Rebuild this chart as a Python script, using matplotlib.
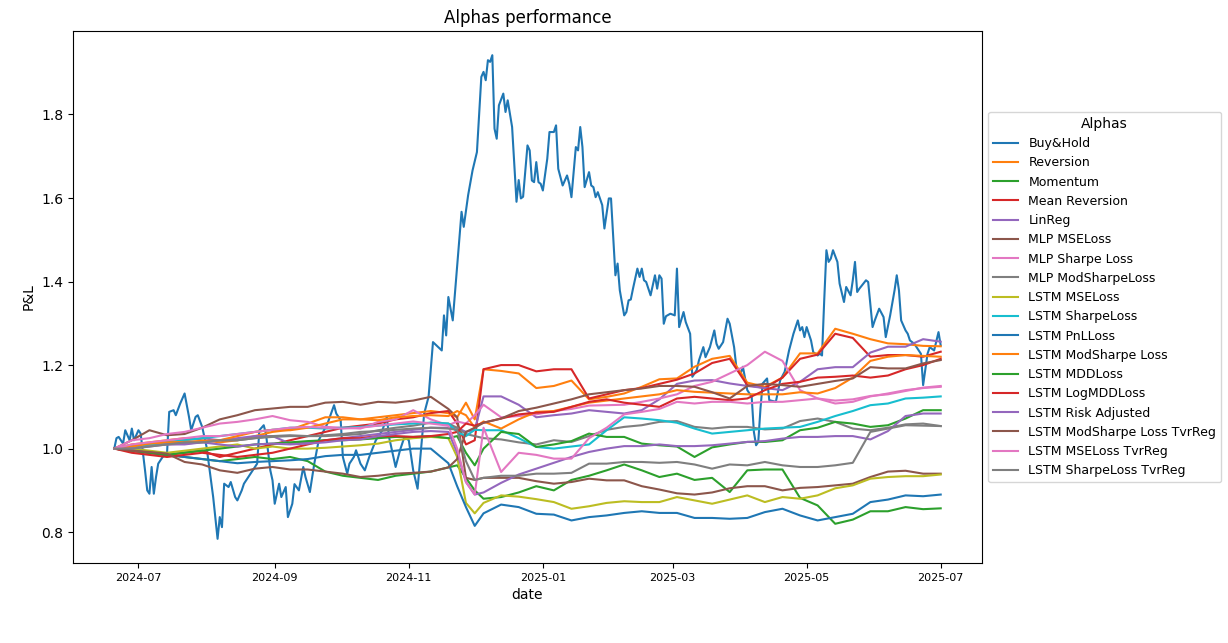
import matplotlib
matplotlib.use('Agg')
import matplotlib.pyplot as plt
import matplotlib.dates as mdates
import pandas as pd

START = '2024-06-20'

# common sampling days (offset from START) for the strategy curves
GRID_DAYS = [0, 8, 16, 24, 32, 40, 48, 56, 64, 72, 80, 88, 96, 104, 112, 120, 128, 136, 144, 152,
             156, 160, 164, 168,
             176, 184, 192, 200, 208, 216, 224, 232, 240, 248, 256,
             264, 272, 280, 288, 296, 304, 312, 320, 328, 336, 344, 352, 360, 368, 376]

# Buy&Hold read at a finer resolution
BH_DAYS = [0, 1, 2, 3, 4, 5, 7, 8, 9, 11, 12, 14, 15, 16, 17, 18, 19, 20, 22, 24, 25, 27, 28, 30, 32,
           34, 35, 37, 38, 40, 42, 43, 45, 47, 48, 49, 50, 52, 53, 55, 56, 58, 59, 61, 63, 65, 66, 68,
           69, 71, 72, 73, 75, 76, 78, 79, 81, 82, 84, 86, 87, 89, 91, 93, 97, 100, 101, 103, 104, 106,
           107, 109, 110, 112, 114, 116, 119, 122, 124, 125, 128, 130, 132, 134, 136, 138, 141, 143,
           145, 149, 150, 151, 152, 154, 158, 159, 161, 163, 165, 167, 168, 169, 170, 171, 172, 173,
           174, 175, 177, 178, 179, 181, 183, 184, 185, 186, 188, 189, 190, 191, 192, 193, 194, 195,
           197, 198, 200, 201, 202, 204, 206, 207, 208, 210, 211, 212, 213, 214, 216, 217, 218, 219,
           220, 222, 223, 225, 226, 228, 229, 230, 232, 233, 234, 235, 236, 238, 239, 240, 241, 242,
           244, 245, 246, 247, 248, 249, 250, 251, 253, 255, 256, 257, 259, 260, 262, 263, 265, 266,
           268, 269, 271, 273, 274, 275, 277, 279, 280, 282, 283, 285, 286, 288, 290, 291, 292, 293,
           294, 295, 297, 298, 301, 303, 305, 307, 309, 311, 312, 313, 314, 315, 317, 318, 320, 321,
           322, 323, 324, 325, 326, 327, 329, 330, 332, 333, 335, 336, 337, 338, 339, 342, 343, 345,
           346, 348, 350, 351, 353, 355, 356, 357, 358, 360, 361, 362, 364, 367, 368, 370, 371, 373,
           375, 376]
BH_VALUES = [1.000, 1.025, 1.028, 1.020, 1.012, 1.044, 1.020, 1.048, 1.020, 1.044, 1.036, 0.948, 0.900,
             0.892, 0.956, 0.892, 0.932, 0.964, 0.980, 0.988, 1.088, 1.092, 1.080, 1.108, 1.132,
             1.076, 1.044, 1.076, 1.080, 1.052, 1.004, 0.964, 0.884, 0.784, 0.836, 0.812, 0.916, 0.908,
             0.920, 0.884, 0.876, 0.900, 0.916, 0.932, 0.948, 0.964, 1.044, 1.056,
             1.036, 0.948, 0.924, 0.868, 0.916, 0.884, 0.908, 0.836, 0.868, 0.915, 0.900, 0.956, 0.932,
             0.896, 0.964, 1.020, 1.060, 1.104, 1.084, 1.068, 0.980, 0.940,
             0.964, 0.980, 0.996, 0.964, 0.948, 0.980, 1.020, 1.044, 1.076, 1.028, 0.956, 0.996, 1.028,
             1.020, 0.948, 0.904, 1.084, 1.124,
             1.255, 1.235, 1.319, 1.271, 1.363, 1.307, 1.567, 1.531, 1.607, 1.666, 1.710, 1.890, 1.902,
             1.882, 1.930, 1.926, 1.942, 1.766,
             1.742, 1.822, 1.850, 1.806, 1.834, 1.770, 1.591, 1.643, 1.599, 1.603, 1.726, 1.714, 1.642,
             1.638, 1.686, 1.638, 1.634, 1.618,
             1.694, 1.758, 1.758, 1.774, 1.670, 1.630, 1.654, 1.634, 1.602, 1.722, 1.714, 1.770, 1.722,
             1.626, 1.662, 1.630, 1.626, 1.602,
             1.614, 1.583, 1.527, 1.599, 1.599, 1.415, 1.443, 1.379, 1.319, 1.327, 1.355, 1.357, 1.383,
             1.431, 1.411, 1.431, 1.403, 1.399,
             1.367, 1.391, 1.415, 1.383, 1.415, 1.407, 1.299, 1.317, 1.323, 1.319, 1.431, 1.291, 1.327,
             1.303, 1.275, 1.172, 1.188, 1.211,
             1.243, 1.219, 1.243, 1.283, 1.251, 1.239, 1.255, 1.311, 1.299, 1.243, 1.196, 1.180, 1.196,
             1.140, 1.124, 1.040, 1.008, 1.016,
             1.096, 1.156, 1.168, 1.116, 1.112, 1.164, 1.184, 1.235, 1.275, 1.307, 1.283, 1.291, 1.267,
             1.291, 1.259, 1.231, 1.223, 1.227,
             1.223, 1.355, 1.475, 1.447, 1.455, 1.475, 1.447, 1.395, 1.351, 1.387, 1.367, 1.403, 1.447,
             1.375, 1.383, 1.403, 1.399, 1.291,
             1.307, 1.335, 1.315, 1.267, 1.319, 1.379, 1.415, 1.379, 1.307, 1.283, 1.275, 1.259, 1.251,
             1.227, 1.152, 1.227, 1.243, 1.235,
             1.279, 1.247]

REVERSION = [1.0, 1.01, 1.015, 1.02, 1.025, 1.02, 1.015, 1.02, 1.03, 1.04, 1.045, 1.06, 1.075, 1.075, 1.07,
             1.075, 1.08, 1.085, 1.09, 1.085,
             1.075, 1.11, 1.07, 1.19,
             1.186, 1.18, 1.145, 1.15, 1.163, 1.118, 1.124, 1.132, 1.148, 1.166, 1.168,
             1.196, 1.215, 1.222, 1.158, 1.148, 1.17, 1.228, 1.228, 1.287, 1.275, 1.262, 1.252, 1.25, 1.246, 1.245]
MOMENTUM = [1.0, 0.995, 0.99, 0.985, 0.98, 0.975, 0.97, 0.975, 0.98, 0.975, 0.98, 0.97, 0.945, 0.935, 0.93,
            0.925, 0.935, 0.94, 0.945, 0.955,
            0.96, 0.93, 0.90, 0.88,
            0.884, 0.895, 0.91, 0.90, 0.925, 0.935, 0.948, 0.962, 0.948, 0.932, 0.94,
            0.925, 0.93, 0.896, 0.948, 0.95, 0.95, 0.882, 0.864, 0.82, 0.83, 0.85, 0.85, 0.86, 0.855, 0.857]
MEAN_REVERSION = [1.0, 0.995, 0.99, 0.985, 0.99, 0.995, 0.98, 0.99, 1.0, 1.01, 1.02, 1.03, 1.04, 1.05, 1.055,
                  1.06, 1.07, 1.075, 1.085, 1.09,
                  1.06, 1.01, 1.02, 1.19,
                  1.20, 1.20, 1.185, 1.19, 1.19, 1.12, 1.13, 1.14, 1.145, 1.155, 1.165,
                  1.18, 1.205, 1.215, 1.152, 1.145, 1.17, 1.215, 1.225, 1.275, 1.265, 1.22, 1.224, 1.224, 1.22, 1.232]
LINREG = [1.0, 1.005, 1.01, 1.015, 1.02, 1.025, 1.02, 1.025, 1.03, 1.03, 1.012, 1.015, 1.02, 1.025, 1.03,
          1.035, 1.04, 1.045, 1.05, 1.05,
          1.05, 1.04, 1.045, 1.125,
          1.125, 1.105, 1.075, 1.08, 1.084, 1.092, 1.088, 1.084, 1.092, 1.118, 1.155,
          1.163, 1.164, 1.156, 1.15, 1.145, 1.14, 1.16, 1.19, 1.195, 1.195, 1.23, 1.244, 1.244, 1.262, 1.256]
MLP_MSE = [1.0, 1.02, 1.044, 1.032, 1.035, 1.05, 1.07, 1.08, 1.092, 1.096, 1.10, 1.10, 1.11, 1.112, 1.105,
           1.112, 1.11, 1.115, 1.124, 1.095,
           1.075, 0.93, 0.925, 0.93,
           0.93, 0.93, 0.922, 0.916, 0.92, 0.928, 0.924, 0.924, 0.91, 0.902, 0.893,
           0.89, 0.895, 0.905, 0.91, 0.91, 0.90, 0.906, 0.908, 0.912, 0.916, 0.932, 0.945, 0.947, 0.94, 0.94]
MLP_SHARPE = [1.0, 1.02, 1.025, 1.035, 1.04, 1.05, 1.06, 1.064, 1.07, 1.078, 1.068, 1.064, 1.052, 1.05, 1.048,
              1.064, 1.07, 1.092, 1.07, 1.056,
              1.065, 1.06, 1.08, 1.105,
              1.075, 1.078, 1.082, 1.09, 1.095, 1.103, 1.104, 1.105, 1.112, 1.12, 1.13,
              1.15, 1.16, 1.18, 1.2, 1.232, 1.21, 1.14, 1.12, 1.108, 1.112, 1.125, 1.132, 1.14, 1.145, 1.148]
MLP_MODSHARPE = [1.0, 1.005, 1.01, 1.01, 1.012, 1.015, 1.02, 1.02, 1.025, 1.03, 1.032, 1.03, 1.03, 1.032, 1.035,
                 1.044, 1.05, 1.055, 1.062, 1.06,
                 1.05, 1.035, 1.03, 1.025,
                 1.022, 1.015, 1.01, 1.02, 1.016, 1.03, 1.045, 1.052, 1.056, 1.064, 1.066,
                 1.052, 1.048, 1.052, 1.052, 1.046, 1.048, 1.066, 1.072, 1.064, 1.048, 1.044, 1.05, 1.058, 1.06, 1.054]
LSTM_MSE = [1.0, 1.0, 0.995, 0.99, 0.995, 1.0, 1.005, 1.01, 1.0, 1.005, 1.0, 1.0, 1.002, 1.005, 1.008,
            1.012, 1.02, 1.025, 1.028, 1.025,
            0.98, 0.87, 0.845, 0.87,
            0.888, 0.885, 0.879, 0.872, 0.856, 0.862, 0.87, 0.874, 0.872, 0.872, 0.884,
            0.876, 0.868, 0.878, 0.888, 0.872, 0.884, 0.88, 0.888, 0.905, 0.912, 0.928, 0.932, 0.934, 0.934, 0.938]
LSTM_SHARPE = [1.0, 1.005, 1.01, 1.015, 1.02, 1.025, 1.03, 1.035, 1.04, 1.045, 1.05, 1.05, 1.048, 1.05, 1.052,
               1.055, 1.058, 1.06, 1.062, 1.06,
               1.04, 1.03, 1.045, 1.044,
               1.044, 1.025, 1.004, 1.0, 1.005, 1.01, 1.044, 1.075, 1.072, 1.068, 1.062,
               1.048, 1.036, 1.04, 1.044, 1.048, 1.05, 1.052, 1.064, 1.078, 1.09, 1.104, 1.108, 1.12, 1.122, 1.125]
LSTM_PNL = [1.0, 0.995, 0.99, 0.985, 0.98, 0.975, 0.97, 0.965, 0.968, 0.97, 0.972, 0.975, 0.982, 0.985, 0.985,
            0.99, 0.995, 1.0, 1.0, 0.965,
            0.91, 0.86, 0.815, 0.845,
            0.866, 0.86, 0.844, 0.842, 0.828, 0.836, 0.84, 0.846, 0.85, 0.846, 0.846,
            0.834, 0.834, 0.832, 0.834, 0.848, 0.856, 0.84, 0.828, 0.836, 0.844, 0.872, 0.878, 0.888, 0.886, 0.89]
LSTM_MODSHARPE = [1.0, 1.005, 1.012, 1.015, 1.016, 1.018, 1.02, 1.03, 1.04, 1.045, 1.044, 1.05, 1.06, 1.07, 1.07,
                  1.068, 1.075, 1.078, 1.08, 1.078,
                  1.09, 1.08, 1.05, 1.065,
                  1.048, 1.07, 1.088, 1.09, 1.1, 1.11, 1.115, 1.12, 1.125, 1.13, 1.14,
                  1.136, 1.134, 1.132, 1.13, 1.13, 1.13, 1.135, 1.132, 1.145, 1.17, 1.21, 1.22, 1.224, 1.222, 1.22]
LSTM_MDD = [1.0, 0.995, 0.99, 0.985, 0.99, 0.995, 1.0, 1.005, 1.01, 1.012, 1.015, 1.018, 1.02, 1.02, 1.022,
            1.025, 1.028, 1.028, 1.03, 1.025,
            1.03, 0.99, 0.96, 1.0,
            1.04, 1.035, 1.004, 1.01, 1.018, 1.036, 1.028, 1.028, 1.012, 1.008, 1.005,
            0.98, 1.003, 1.01, 1.016, 1.016, 1.02, 1.044, 1.05, 1.064, 1.06, 1.052, 1.056, 1.072, 1.092, 1.092]
LSTM_LOGMDD = [1.0, 0.99, 0.985, 0.98, 0.985, 0.99, 0.985, 0.98, 0.985, 0.99, 1.0, 1.01, 1.02, 1.025, 1.025,
               1.03, 1.03, 1.028, 1.03, 1.035,
               1.04, 1.06, 1.055, 1.062,
               1.072, 1.082, 1.086, 1.088, 1.1, 1.112, 1.118, 1.11, 1.105, 1.1, 1.12,
               1.124, 1.12, 1.116, 1.12, 1.14, 1.155, 1.16, 1.17, 1.172, 1.175, 1.17, 1.175, 1.19, 1.2, 1.215]
LSTM_RISKADJ = [1.0, 1.0, 1.005, 1.01, 1.01, 1.015, 1.01, 1.005, 1.01, 1.012, 1.01, 1.012, 1.015, 1.02, 1.022,
                1.03, 1.035, 1.04, 1.042, 1.04,
                0.99, 0.92, 0.89, 0.895,
                0.918, 0.938, 0.952, 0.966, 0.98, 0.992, 1.0, 1.006, 1.006, 1.01, 1.006,
                1.006, 1.008, 1.012, 1.016, 1.018, 1.024, 1.028, 1.028, 1.03, 1.03, 1.022, 1.042, 1.078, 1.084, 1.084]
LSTM_MODSHARPE_TVR = [1.0, 0.995, 0.992, 0.988, 0.968, 0.962, 0.948, 0.942, 0.952, 0.956, 0.95, 0.95, 0.945, 0.94,
                      0.932, 0.935, 0.94, 0.942, 0.945, 0.955,
                      0.975, 1.04, 1.05, 1.062,
                      1.072, 1.09, 1.098, 1.108, 1.118, 1.13, 1.135, 1.14, 1.144, 1.15, 1.15,
                      1.148, 1.135, 1.12, 1.15, 1.155, 1.152, 1.148, 1.155, 1.162, 1.168, 1.195, 1.192, 1.192, 1.204, 1.212]
LSTM_MSE_TVR = [1.0, 1.01, 1.015, 1.02, 1.025, 1.03, 1.03, 1.035, 1.04, 1.045, 1.05, 1.052, 1.05, 1.048, 1.05,
                1.055, 1.06, 1.065, 1.06, 1.055,
                1.0, 0.92, 0.89, 1.05,
                0.944, 0.99, 0.985, 0.976, 0.976, 1.025, 1.05, 1.082, 1.088, 1.095, 1.112,
                1.108, 1.112, 1.112, 1.108, 1.112, 1.112, 1.116, 1.12, 1.115, 1.118, 1.126, 1.13, 1.138, 1.146, 1.15]
LSTM_SHARPE_TVR = [1.0, 1.0, 1.005, 1.01, 1.015, 1.015, 1.02, 1.02, 1.025, 1.028, 1.03, 1.03, 1.032, 1.035, 1.04,
                   1.042, 1.045, 1.048, 1.05, 1.048,
                   1.045, 0.97, 0.925, 0.93,
                   0.935, 0.935, 0.94, 0.94, 0.942, 0.964, 0.964, 0.968, 0.968, 0.966, 0.968,
                   0.962, 0.952, 0.962, 0.96, 0.968, 0.96, 0.956, 0.956, 0.96, 0.966, 1.04, 1.048, 1.056, 1.055, 1.054]

SERIES = [
    ('Reversion', REVERSION),
    ('Momentum', MOMENTUM),
    ('Mean Reversion', MEAN_REVERSION),
    ('LinReg', LINREG),
    ('MLP MSELoss', MLP_MSE),
    ('MLP Sharpe Loss', MLP_SHARPE),
    ('MLP ModSharpeLoss', MLP_MODSHARPE),
    ('LSTM MSELoss', LSTM_MSE),
    ('LSTM SharpeLoss', LSTM_SHARPE),
    ('LSTM PnLLoss', LSTM_PNL),
    ('LSTM ModSharpe Loss', LSTM_MODSHARPE),
    ('LSTM MDDLoss', LSTM_MDD),
    ('LSTM LogMDDLoss', LSTM_LOGMDD),
    ('LSTM Risk Adjusted', LSTM_RISKADJ),
    ('LSTM ModSharpe Loss TvrReg', LSTM_MODSHARPE_TVR),
    ('LSTM MSELoss TvrReg', LSTM_MSE_TVR),
    ('LSTM SharpeLoss TvrReg', LSTM_SHARPE_TVR),
]

start = pd.Timestamp(START)
grid_dates = start + pd.to_timedelta(GRID_DAYS, unit='D')
bh_dates = start + pd.to_timedelta(BH_DAYS, unit='D')

fig = plt.figure(figsize=(12.28, 6.43), dpi=100)
ax = fig.add_axes([0.0594, 0.1244, 0.7403, 0.8274])

ax.plot(bh_dates, BH_VALUES, label='Buy&Hold', lw=1.5)
for name, vals in SERIES:
    ax.plot(grid_dates, vals, label=name, lw=1.5)

ax.set_title('Alphas performance', fontsize=12)
ax.set_xlabel('date', fontsize=10)
ax.set_ylabel('P&L', fontsize=10)
ax.xaxis.set_major_locator(mdates.MonthLocator(bymonth=[1, 3, 5, 7, 9, 11]))
ax.xaxis.set_major_formatter(mdates.DateFormatter('%Y-%m'))
ax.tick_params(axis='x', labelsize=8)
ax.tick_params(axis='y', labelsize=10)

ax.legend(title='Alphas', loc='center left', bbox_to_anchor=(1.0, 0.5),
          fontsize=9, title_fontsize=10)

fig.savefig('out.png', dpi=100)
